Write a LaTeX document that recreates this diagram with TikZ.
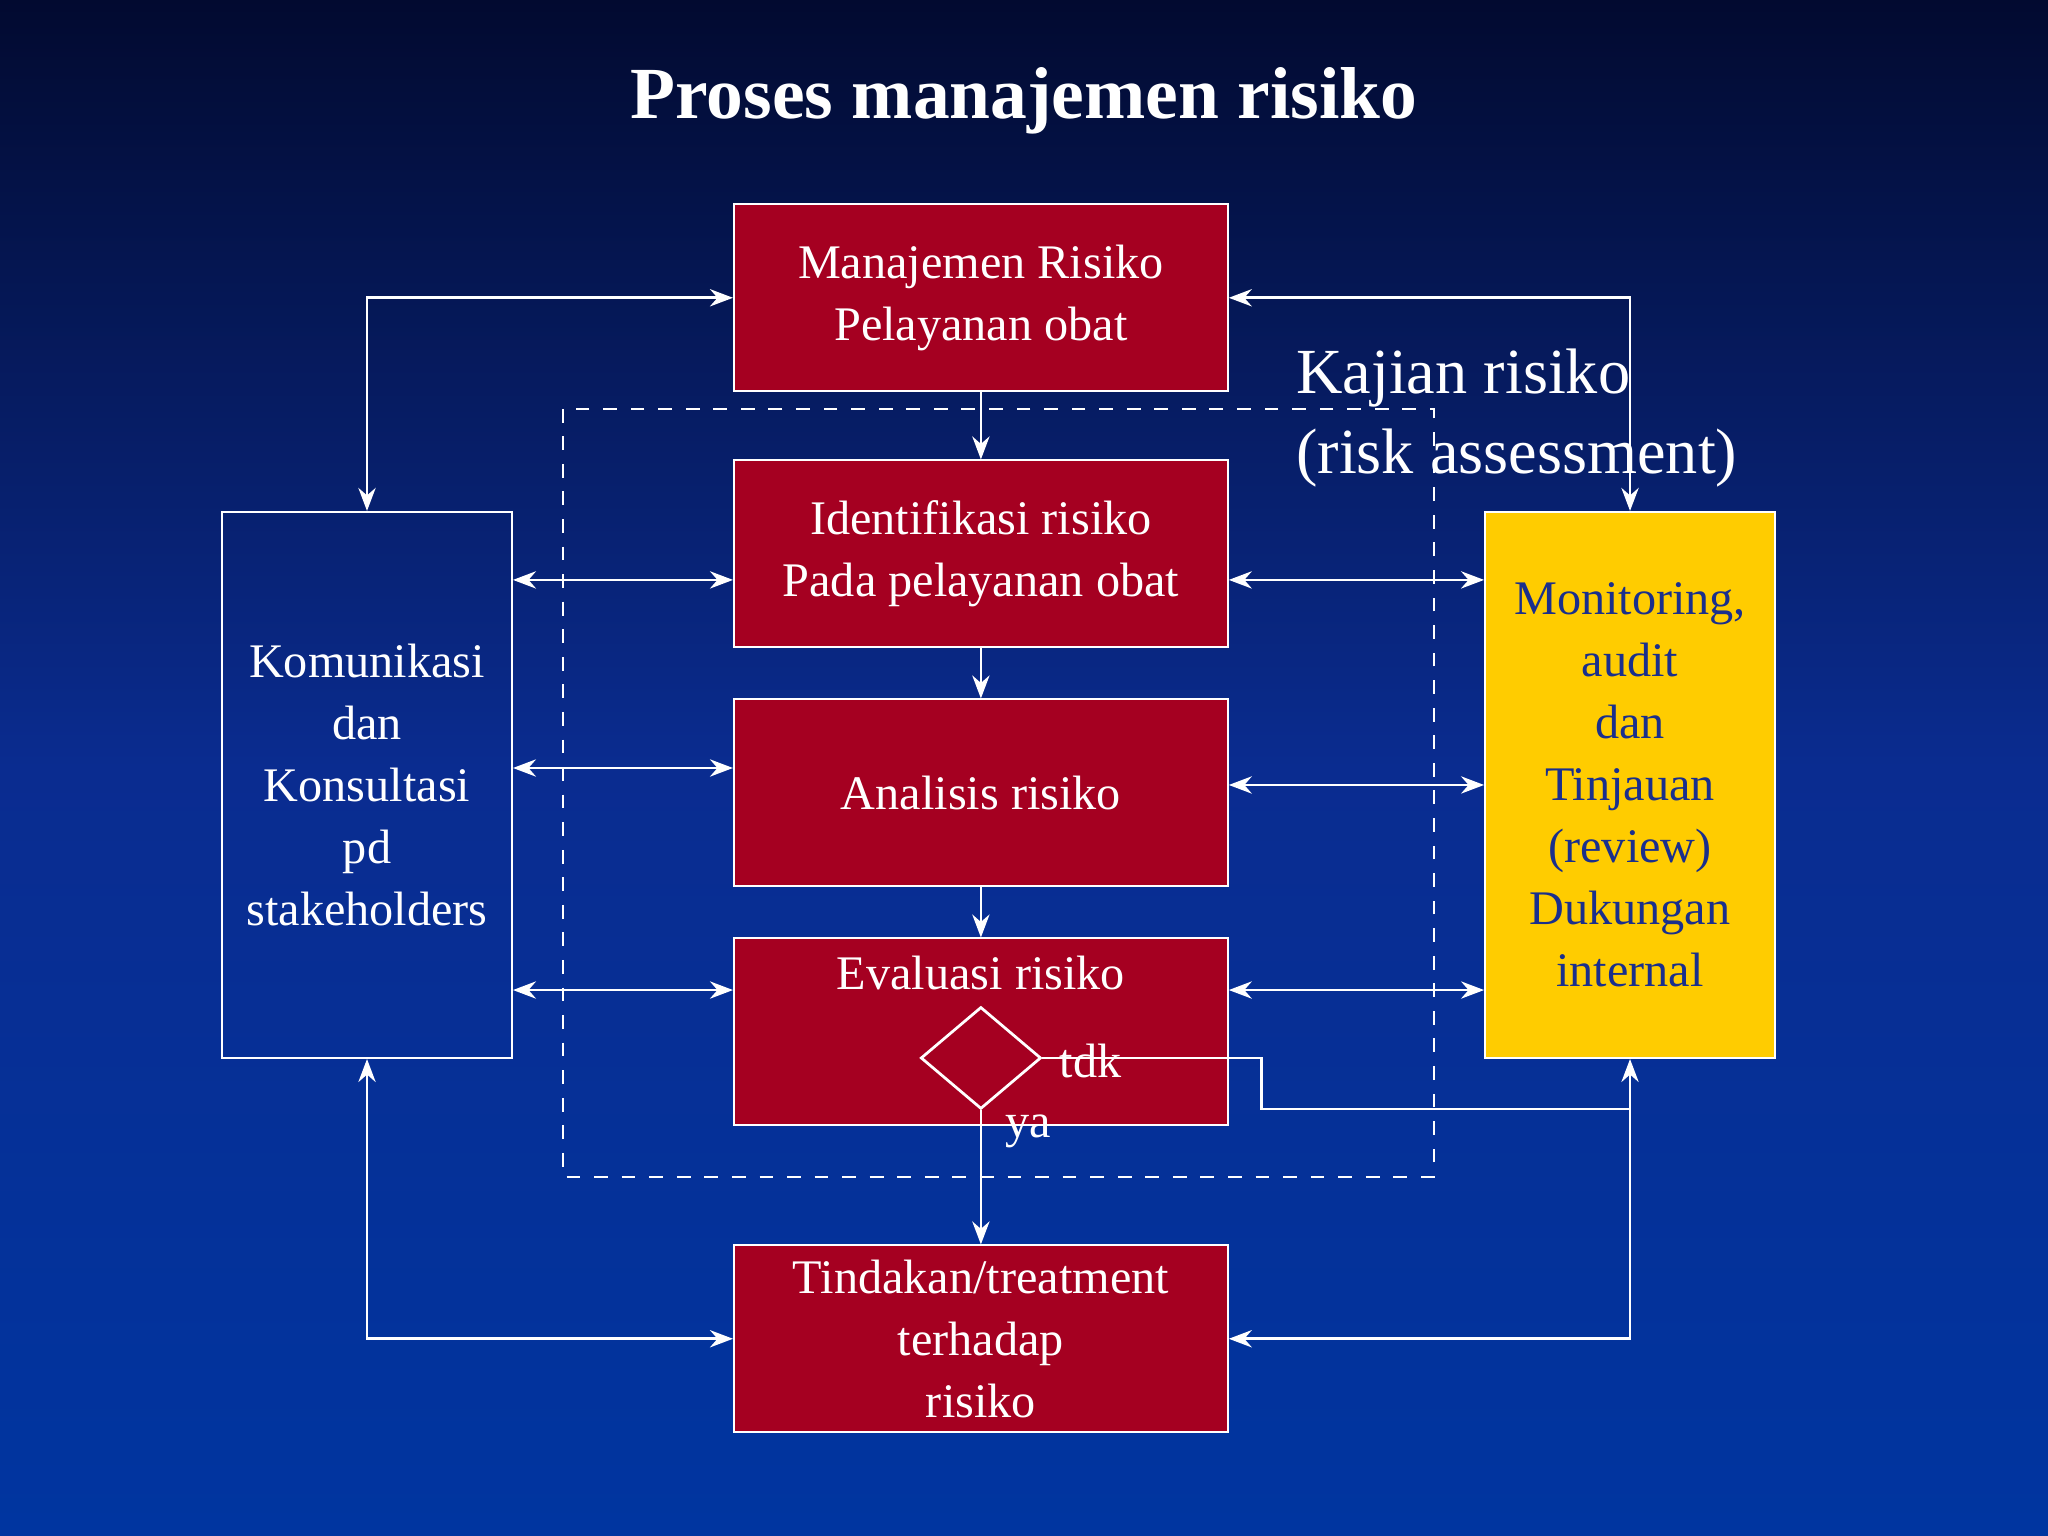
\documentclass[tikz,border=0pt]{standalone}
\usepackage{fontspec}
\setmainfont{Liberation Serif}
\usetikzlibrary{positioning,shapes.geometric,arrows.meta}
\definecolor{rdbox}{HTML}{A50021}
\definecolor{ylbox}{HTML}{FFCC00}
\definecolor{nvtxt}{HTML}{1A2F8C}
\definecolor{bgtop}{HTML}{020A30}
\definecolor{bgmid}{HTML}{0A2C90}
\definecolor{bgbot}{HTML}{0035A0}
\tikzset{
  rstep/.style={draw=white,fill=rdbox,text=white,minimum width=3.78cm,minimum height=1.43cm,align=center,font=\fontsize{10.5}{13.5}\selectfont,inner sep=0pt},
  side/.style={draw=white,minimum width=2.22cm,minimum height=4.18cm,align=center,font=\fontsize{10.5}{13.5}\selectfont,inner sep=0pt},
  lnk/.style={white,semithick,-{Stealth[length=5pt]}},
  blnk/.style={white,semithick,{Stealth[length=5pt]}-{Stealth[length=5pt]}}
}
\begin{document}
\begin{tikzpicture}[x=0.01cm,y=-0.01cm]
\shade[top color=bgtop,bottom color=bgbot,middle color=bgmid] (0,0) rectangle (1568,1176);
\useasboundingbox (0,0) rectangle (1568,1176);
\node[white,font=\bfseries\fontsize{16}{20}\selectfont] (title) at (784,77) {Proses manajemen risiko};

\draw[white,dashed] (431,313) rectangle (1098,901);

\node[rstep] (mr) at (751,228) {Manajemen Risiko\\Pelayanan obat};
\node[rstep] (id) at (751,424) {Identifikasi risiko\\Pada pelayanan obat};
\node[rstep] (an) at (751,607) {Analisis risiko};
\node[rstep] (ev) at (751,790) {};
\node[white,font=\fontsize{10.5}{13.5}\selectfont] (evt) at (751,745) {Evaluasi risiko};
\node[rstep] (tk) at (751,1025) {Tindakan/treatment\\terhadap\\risiko};
\node[side,text=white] (kk) at (281,601) {Komunikasi\\dan\\Konsultasi\\pd\\stakeholders};
\node[side,fill=ylbox,text=nvtxt] (mo) at (1248,601) {Monitoring,\\audit\\dan\\Tinjauan\\(review)\\Dukungan\\internal};
\node[draw=white,semithick,diamond,minimum width=0.92cm,minimum height=0.78cm,inner sep=0pt,aspect=1.2] (dm) at (751,810) {};
\node[white,font=\fontsize{10.5}{13}\selectfont] (tdk) at (835,812) {tdk};
\node[white,font=\fontsize{10.5}{13}\selectfont] (ya) at (787,866) {ya};
\node[white,anchor=west,align=left,font=\fontsize{14}{17.6}\selectfont] (kj) at (980,320) {Kajian risiko\\(risk assessment)};

\coordinate (c1) at (966,810);
\coordinate (c2) at (966,849);
\coordinate (c3) at (1248,849);

% vertical flow
\draw[lnk] (mr) -- (id);
\draw[lnk] (id) -- (an);
\draw[lnk] (an) -- (ev);
\draw[lnk] (dm.south) -- (tk);

% left side
\draw[blnk] (kk.north) |- (mr.west);
\draw[blnk] (kk.east |- 0,444) -- (id.west |- 0,444);
\draw[blnk] (kk.east |- 0,588) -- (an.west |- 0,588);
\draw[blnk] (kk.east |- 0,758) -- (ev.west |- 0,758);
\draw[blnk] (kk.south) |- (tk.west);

% right side
\draw[blnk] (mo.north) |- (mr.east);
\draw[blnk] (id.east |- 0,444) -- (mo.west |- 0,444);
\draw[blnk] (an.east |- 0,601) -- (mo.west |- 0,601);
\draw[blnk] (ev.east |- 0,758) -- (mo.west |- 0,758);
\draw[white,semithick] (dm.east) -- (c1) -- (c2) -- (c3);
\draw[lnk] (c3) -- (mo.south);
\draw[lnk] (c3) |- (tk.east);
\end{tikzpicture}
\end{document}
